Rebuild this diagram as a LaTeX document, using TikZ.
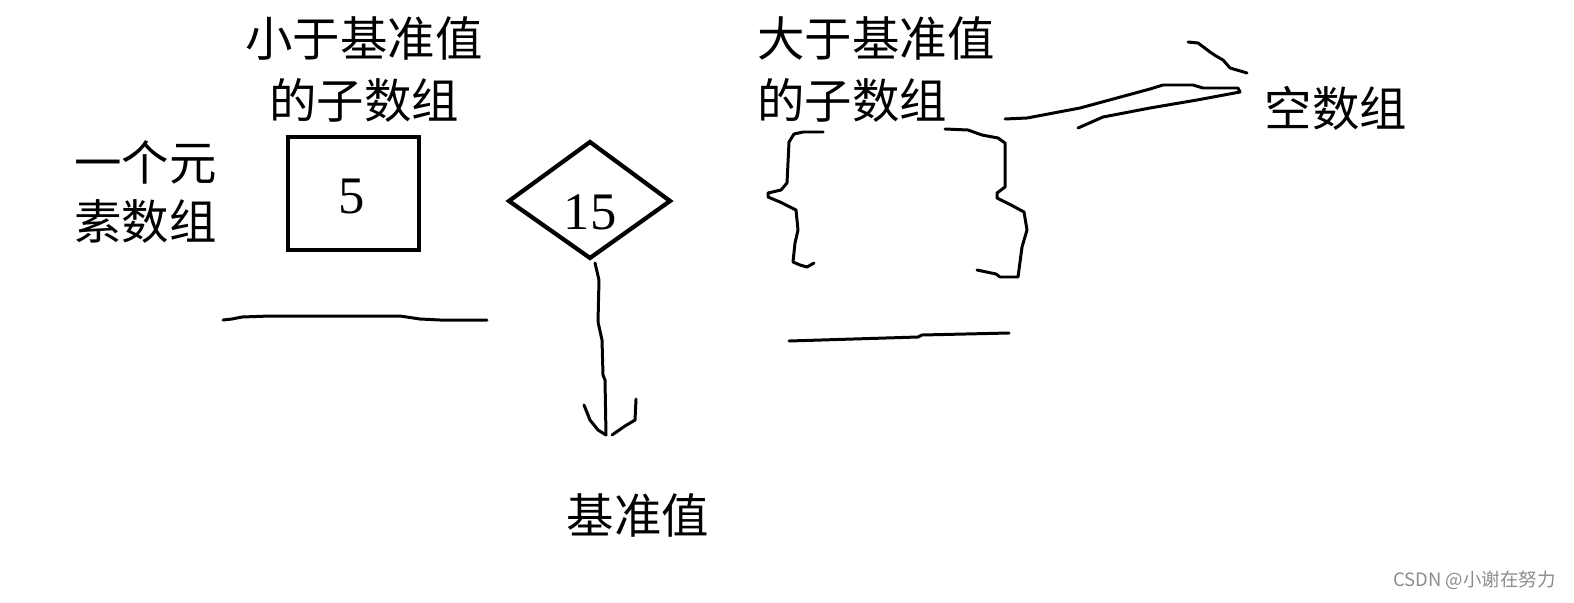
\documentclass[tikz,border=0pt]{standalone}
\usepackage{fontspec}
\newfontfamily\cjk{Noto Sans CJK SC}
\newfontfamily\digits{Liberation Serif}
\usetikzlibrary{shapes.geometric}
\begin{document}
\begin{tikzpicture}[x=0.02cm,y=-0.02cm,
  lbl/.style={font=\cjk\fontsize{27}{30}\selectfont, inner sep=0pt},
  num/.style={font=\digits\fontsize{30}{32}\selectfont, inner sep=0pt},
  stroke/.style={line width=1.7pt, line cap=round, line join=round},
  boxline/.style={line width=2.4pt, line join=miter}]
\useasboundingbox (0,0) rectangle (1574,602);
% labels
\node[lbl] (lt1) at (364,38) {小于基准值};
\node[lbl] (lt2) at (364,100) {的子数组};
\node[lbl, anchor=west] (one1) at (74,162) {一个元};
\node[lbl, anchor=west] (one2) at (74,222) {素数组};
\node[lbl, anchor=west] (rt1) at (757,38) {大于基准值};
\node[lbl, anchor=west] (rt2) at (757,100) {的子数组};
\node[lbl] (empty) at (1336,108) {空数组};
\node[lbl] (pivot) at (638,515) {基准值};
% square with 5
\draw[boxline] (288,137) rectangle (419,250);
\node[num] (five) at (352,196) {5};
% diamond with 15
\coordinate (dl) at (509,201);
\coordinate (dt) at (590,142);
\coordinate (dr) at (670,201);
\coordinate (db) at (590,258);
\draw[boxline] (dl) -- (dt) -- (dr) -- (db) -- cycle;
\node[num] (fifteen) at (590,212) {15};
% hand-drawn arrow
\coordinate (as) at (595,263);
\coordinate (ae) at (606,435);
\draw[stroke] (as) -- (599,280) -- (598,322) -- (602,340) -- (603,375) -- (605,380) -- (ae);
\draw[stroke] (584,405) -- (590,420) -- (598,430) -- (ae);
\draw[stroke] (636,399) -- (635,420) -- (625,426) -- (612,435);
% underline left
\draw[stroke] (223,320) -- (232,319) -- (242,317) -- (270,316) -- (400,316) -- (420,319) -- (440,320) -- (487,320);
% underline right
\draw[stroke] (789,341) -- (918,337) -- (922,335) -- (1009,333);
% left brace
\draw[stroke] (823,132) -- (803,132) -- (794,134) -- (789,142) -- (787,183) -- (781,190) -- (768,193) -- (768,197) -- (780,202) -- (796,210) -- (798,230) -- (795,243) -- (793,262) -- (800,265) -- (807,267) -- (814,263);
% right brace
\draw[stroke] (945,129) -- (968,130) -- (982,135) -- (998,138) -- (1005,143) -- (1005,187) -- (997,193) -- (997,198) -- (1011,205) -- (1024,212) -- (1027,230) -- (1022,247) -- (1018,277) -- (1000,277) -- (996,274) -- (977,270);
% stroke to empty array
\draw[stroke] (1005,119) -- (1027,118) -- (1080,108) -- (1150,89) -- (1163,85) -- (1193,85) -- (1203,88) -- (1238,88) -- (1240,92) -- (1197,100) -- (1150,108) -- (1103,117) -- (1078,128);
\draw[stroke] (1188,42) -- (1198,43) -- (1210,52) -- (1216,56) -- (1223,60) -- (1230,68) -- (1247,73);
% watermark
\node[font=\cjk\fontsize{10.5}{12}\selectfont, text=black!45, anchor=east, inner sep=0pt] (wm) at (1556,580) {CSDN @小谢在努力};
\end{tikzpicture}
\end{document}
